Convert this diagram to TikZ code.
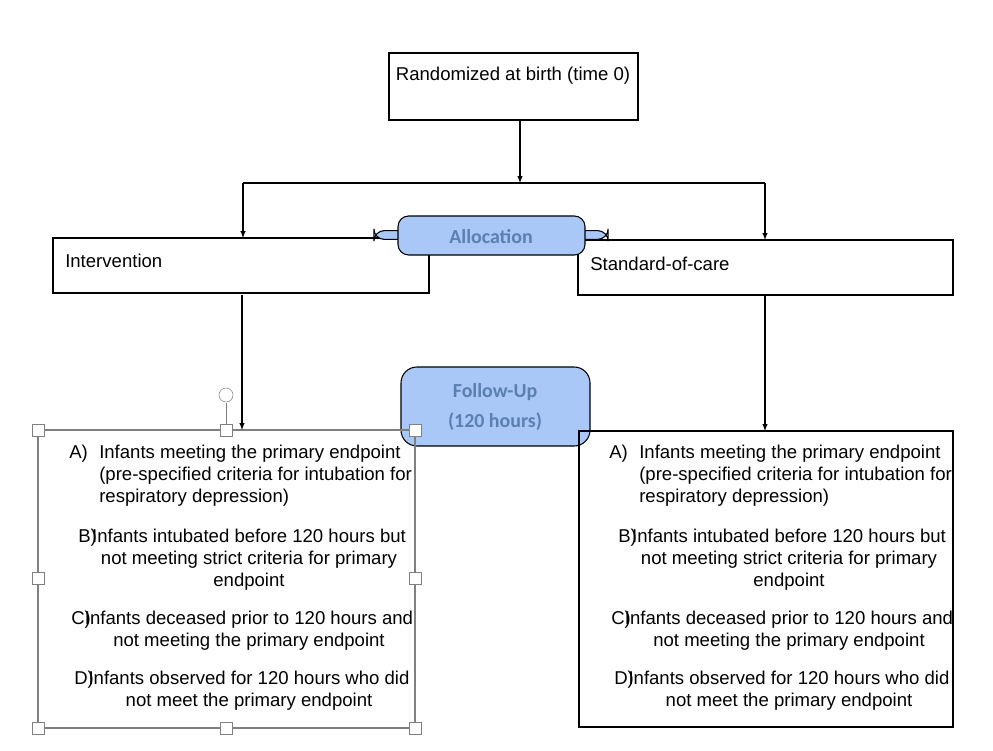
\documentclass[tikz,border=0pt]{standalone}
\usepackage{fontspec}
\setmainfont{Liberation Sans}
\newfontfamily\calfont{Carlito}
\usetikzlibrary{positioning}
\definecolor{pillblue}{HTML}{A9C8F7}
\definecolor{pilltext}{HTML}{5B7FAF}
\tikzset{
  box/.style={draw,thick,inner sep=0pt},
  pill/.style={draw,thick,fill=pillblue,rounded corners=8pt,font=\calfont\bfseries\fontsize{15}{23}\selectfont,text=pilltext,align=center},
  txt/.style={font=\fontsize{14}{16.6}\selectfont,inner sep=0pt},
  handle/.style={draw=gray,fill=white,minimum size=9pt,inner sep=0pt},
  flow/.style={-latex,thick}
}
\begin{document}
\begin{tikzpicture}[x=0.0265cm,y=-0.0265cm]
\useasboundingbox (0,0) rectangle (993,750);
% top and branches
\draw[box] (389,53) rectangle (638,120);
\node[txt,anchor=north] (top) at (513,67) {Randomized at birth (time 0)};
\coordinate (topout) at (520,120);
\coordinate (split) at (520,183);
\draw[flow] (topout) -- (split);
\draw[thick] (243,183) -- (765,183);
\draw[box] (53,238) rectangle (429,293);
\draw[box] (578,240) rectangle (953,295);
\node[txt,anchor=west] (int) at (65,261) {Intervention};
\node[txt,anchor=west] (soc) at (590,264) {Standard-of-care};
\coordinate (lt) at (243,183);
\coordinate (rt) at (765,183);
\draw[flow] (lt) -- (243,238);
\draw[flow] (rt) -- (765,240);
\node[pill,minimum width=187\pgflinewidth,text width=170pt] (alloc) at (491,235) {};
\draw[thick,fill=pillblue,rounded corners=8pt] (398,216) rectangle (585,255);
\node[pill,draw=none,fill=none] (alloclbl) at (491,237) {Allocation};
\draw[thick,fill=pillblue,rounded corners=12pt] (401,367) rectangle (590,446);
\node[pill,draw=none,fill=none] (fu) at (495,407) {Follow-Up\\(120 hours)};
% outcome boxes
\draw[gray,thick] (38,430) rectangle (415,728);
\draw[box] (579,431) rectangle (953,727);
\draw[flow] (242,295) -- (242,430);
\draw[flow] (765,295) -- (765,431);
\foreach \hx in {38,226,415} \foreach \hy in {430,728} \node[handle] at (\hx,\hy) {};
\foreach \hx in {38,415} \node[handle] at (\hx,578) {};
\draw[gray] (226,395) circle (7);
\draw[gray,thin] (226,403) -- (226,425);
\foreach \o in {-540,0} {
  \node[txt,anchor=north west] at (609+\o,445) {A)};
  \node[txt,anchor=north west,align=left] at (639+\o,445) {Infants meeting the primary endpoint\\(pre-specified criteria for intubation for\\respiratory depression)};
  \node[txt,anchor=north west] at (618+\o,529) {B)};
  \node[txt,anchor=north,align=center] at (789+\o,529) {Infants intubated before 120 hours but\\not meeting strict criteria for primary\\endpoint};
  \node[txt,anchor=north west] at (611+\o,611) {C)};
  \node[txt,anchor=north,align=center] at (789+\o,611) {Infants deceased prior to 120 hours and\\not meeting the primary endpoint};
  \node[txt,anchor=north west] at (614+\o,671) {D)};
  \node[txt,anchor=north,align=center] at (789+\o,671) {Infants observed for 120 hours who did\\not meet the primary endpoint};
}
\end{tikzpicture}
\end{document}
